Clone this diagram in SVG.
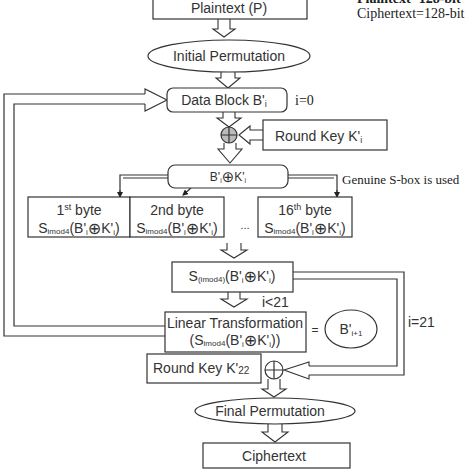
<svg xmlns="http://www.w3.org/2000/svg" width="474" height="474" viewBox="0 0 474 474">
<style>
  .box{fill:#fff;stroke:#333;stroke-width:1.2}
  .ln{fill:none;stroke:#333;stroke-width:1.2}
  .ha{fill:#fff;stroke:#333;stroke-width:1.1;stroke-linejoin:miter}
  .t{font-family:"Liberation Sans",Arial,sans-serif;font-size:14px;fill:#333}
  .s{font-family:"Liberation Serif","Times New Roman",serif;font-size:14px;fill:#222}
  .sub{font-size:8px}
  .op{font-family:"DejaVu Sans",sans-serif}
</style>
<defs>
  <marker id="ah" markerWidth="6" markerHeight="6" refX="5" refY="3" orient="auto" markerUnits="userSpaceOnUse">
    <path d="M0,0 L6,3 L0,6 Z" fill="#222"/>
  </marker>
</defs>
<rect width="474" height="474" fill="#fff"/>

<!-- top-right notes -->
<g id="notes">
  <text class="s" x="357" y="3" style="font-weight:bold">Plaintext=128-bit</text>
  <text class="s" x="357" y="18">Ciphertext=128-bit</text>
</g>

<g id="connectors">
  <!-- hollow arrows down -->
  <path class="ha" d="M218,19 L218,29 L213,29 L224,37 L235,29 L230,29 L230,19"/>
  <path class="ha" d="M221,72 L221,78 L216,78 L228,88 L240,78 L235,78 L235,72"/>
  <path class="ha" d="M223,112 L223,118 L217,118 L229,127 L241,118 L235,118 L235,112"/>
  <path class="ha" d="M263,130 L250,130 L250,126 L239,135 L250,144 L250,140 L263,140"/>
  <path class="ha" d="M224,143 L224,149 L218,149 L230,163 L242,149 L236,149 L236,143"/>
  <path class="ha" d="M227,243 L227,250 L221,250 L234,258 L247,250 L241,250 L241,243"/>
  <path class="ha" d="M228,292 L228,299 L221,299 L234,307 L247,299 L240,299 L240,292"/>
  <path class="ha" d="M268,379 L268,389 L262,389 L274,397 L286,389 L280,389 L280,379"/>
  <path class="ha" d="M268,424 L268,432 L262,432 L275,442 L288,432 L282,432 L282,424"/>

  <!-- feedback loop (double line) into Data Block -->
  <polyline class="ln" points="165,336 4,336 4,94 145,94"/>
  <polyline class="ln" points="165,326 14,326 14,104 145,104"/>
  <path class="ha" d="M145,94 L145,89 L167,100 L145,111 L145,104"/>

  <!-- split from B'i xor K'i -->
  <polyline class="ln" points="168,175 120,175 120,194"/>
  <line class="ln" x1="168" y1="178" x2="123" y2="178"/>
  <line class="ln" x1="120" y1="190" x2="120" y2="197" marker-end="url(#ah)"/>
  <line class="ln" x1="191" y1="188" x2="183" y2="195" marker-end="url(#ah)"/>
  <polyline class="ln" points="288,175 337,175 337,194"/>
  <line class="ln" x1="288" y1="178" x2="334" y2="178"/>
  <line class="ln" x1="337" y1="190" x2="337" y2="197" marker-end="url(#ah)"/>

  <!-- i=21 path (double line) to final XOR -->
  <polyline class="ln" points="293,272 404,272 404,375 309,375"/>
  <polyline class="ln" points="293,279 397,279 397,366 309,366"/>
  <path class="ha" d="M309,366 L309,362 L284,370 L309,379 L309,375"/>
</g>

<g id="plaintext">
  <rect class="box" x="153" y="-5" width="154" height="24"/>
  <text class="t" x="229" y="13" text-anchor="middle">Plaintext (P)</text>
</g>

<g id="initial-permutation">
  <ellipse class="box" cx="229" cy="56" rx="81" ry="16"/>
  <text class="t" x="229" y="61" text-anchor="middle">Initial Permutation</text>
</g>

<g id="data-block">
  <rect class="box" x="167" y="88" width="120" height="24" rx="6"/>
  <text class="t" x="224" y="105" text-anchor="middle">Data Block B'<tspan font-size="9" dy="2">i</tspan></text>
  <text class="s" x="295" y="105">i=0</text>
</g>

<g id="xor1">
  <circle cx="229" cy="135" r="8" fill="#bbb" stroke="#333" stroke-width="1.2"/>
  <path class="ln" d="M221,135 H237 M229,127 V143"/>
</g>

<g id="round-key-i">
  <rect class="box" x="263" y="120" width="124" height="30"/>
  <text class="t" x="275" y="141">Round Key K'<tspan font-size="9" dy="2">i</tspan></text>
</g>

<g id="b-xor-k">
  <rect class="box" x="168" y="165" width="120" height="23" rx="7"/>
  <text class="t" x="228" y="181" text-anchor="middle" style="font-size:12px">B'<tspan font-size="7" dy="2">i</tspan><tspan class="op" dy="-1" style="font-size:15px">⊕</tspan><tspan dy="-1">K'</tspan><tspan font-size="7" dy="2">i</tspan></text>
  <text class="s" x="342" y="184" style="font-size:13px">Genuine S-box is used</text>
</g>

<g id="byte1">
  <rect class="box" x="28" y="197" width="102" height="40"/>
  <text class="t" x="79" y="215" text-anchor="middle">1<tspan font-size="9" dy="-5">st</tspan><tspan dy="5"> byte</tspan></text>
  <text class="t" x="79" y="233" text-anchor="middle">S<tspan class="sub" dy="1">imod4</tspan><tspan dy="-1">(B'</tspan><tspan class="sub" dy="2">i</tspan><tspan class="op" dy="-1" style="font-size:16px">⊕</tspan><tspan dy="-1">K'</tspan><tspan class="sub" dy="2">i</tspan><tspan dy="-2">)</tspan></text>
</g>

<g id="byte2">
  <rect class="box" x="130" y="197" width="94" height="40"/>
  <text class="t" x="177" y="215" text-anchor="middle">2nd byte</text>
  <text class="t" x="177" y="233" text-anchor="middle">S<tspan class="sub" dy="1">imod4</tspan><tspan dy="-1">(B'</tspan><tspan class="sub" dy="2">i</tspan><tspan class="op" dy="-1" style="font-size:16px">⊕</tspan><tspan dy="-1">K'</tspan><tspan class="sub" dy="2">i</tspan><tspan dy="-2">)</tspan></text>
</g>

<text class="t" x="245" y="229" text-anchor="middle" style="font-size:11px">...</text>

<g id="byte16">
  <rect class="box" x="258" y="197" width="94" height="40"/>
  <text class="t" x="305" y="215" text-anchor="middle">16<tspan font-size="9" dy="-5">th</tspan><tspan dy="5"> byte</tspan></text>
  <text class="t" x="305" y="233" text-anchor="middle">S<tspan class="sub" dy="1">imod4</tspan><tspan dy="-1">(B'</tspan><tspan class="sub" dy="2">i</tspan><tspan class="op" dy="-1" style="font-size:16px">⊕</tspan><tspan dy="-1">K'</tspan><tspan class="sub" dy="2">i</tspan><tspan dy="-2">)</tspan></text>
</g>

<g id="s-box">
  <rect class="box" x="172" y="262" width="121" height="30"/>
  <text class="t" x="232" y="281" text-anchor="middle">S<tspan class="sub" dy="1">(imod4)</tspan><tspan dy="-1">(B'</tspan><tspan class="sub" dy="2">i</tspan><tspan class="op" dy="-1" style="font-size:16px">⊕</tspan><tspan dy="-1">K'</tspan><tspan class="sub" dy="2">i</tspan><tspan dy="-2">)</tspan></text>
  <text class="t" x="262" y="307">i&lt;21</text>
  <text class="t" x="408" y="327">i=21</text>
</g>

<g id="linear-transformation">
  <rect class="box" x="165" y="312" width="141" height="40"/>
  <text class="t" x="235" y="328" text-anchor="middle">Linear Transformation</text>
  <text class="t" x="235" y="345" text-anchor="middle">(S<tspan class="sub" dy="1">imod4</tspan><tspan dy="-1">(B'</tspan><tspan class="sub" dy="2">i</tspan><tspan class="op" dy="-1" style="font-size:16px">⊕</tspan><tspan dy="-1">K'</tspan><tspan class="sub" dy="2">i</tspan><tspan dy="-2">))</tspan></text>
  <text class="t" x="315" y="334" text-anchor="middle" style="font-size:12px">=</text>
</g>

<g id="b-next">
  <ellipse class="box" cx="351" cy="329" rx="26" ry="19"/>
  <text class="t" x="351" y="334" text-anchor="middle">B'<tspan class="sub" dy="2">i+1</tspan></text>
</g>

<g id="round-key-22">
  <rect class="box" x="147" y="354" width="114" height="29"/>
  <text class="t" x="153" y="373">Round Key K'<tspan font-size="10" dy="1">22</tspan></text>
</g>

<g id="xor2">
  <circle cx="274" cy="370" r="9" fill="#fff" stroke="#333" stroke-width="1.2"/>
  <path class="ln" d="M265,370 H283 M274,361 V379"/>
</g>

<g id="final-permutation">
  <ellipse class="box" cx="275" cy="411" rx="80" ry="13"/>
  <text class="t" x="270" y="416" text-anchor="middle">Final Permutation</text>
</g>

<g id="ciphertext">
  <rect class="box" x="203" y="443" width="147" height="25"/>
  <text class="t" x="274" y="461" text-anchor="middle">Ciphertext</text>
</g>
</svg>
